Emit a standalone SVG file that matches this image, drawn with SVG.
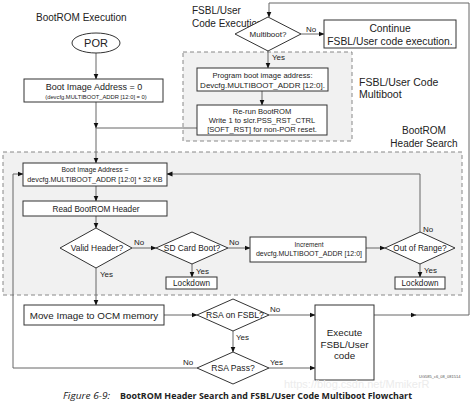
<svg xmlns="http://www.w3.org/2000/svg" width="474" height="404" viewBox="0 0 474 404">
<defs>
<marker id="ah" markerWidth="6" markerHeight="6" refX="5.5" refY="3" orient="auto" markerUnits="userSpaceOnUse">
<path d="M0,0.5 L6,3 L0,5.5 Z" fill="#111"/>
</marker>
<style>
text{font-family:"Liberation Sans",Arial,sans-serif;fill:#222;}
.t{font-size:10px;}
.m{text-anchor:middle;}
.box{fill:#fff;stroke:#333;stroke-width:1;}
.dia{fill:#fff;stroke:#333;stroke-width:1;}
.grp{fill:#f1f1f1;stroke:#888;stroke-width:1;stroke-dasharray:4,3;}
.c{fill:none;stroke:#666;stroke-width:1;}
.ca{fill:none;stroke:#666;stroke-width:1;marker-end:url(#ah);}
.lbl{font-size:8px;}
</style>
</defs>
<rect width="474" height="404" fill="#fff"/>

<g id="groups">
<rect id="grp-multiboot" class="grp" x="183" y="52" width="169" height="89"/>
<rect id="grp-header" class="grp" x="3" y="152" width="459" height="143"/>
</g>

<g id="titles">
<text class="t" x="36" y="21">BootROM Execution</text>
<text class="t" x="192" y="14">FSBL/User</text>
<text class="t" x="192" y="27">Code Execution</text>
<text x="359" y="86" style="font-size:10.5px">FSBL/User Code</text>
<text x="359" y="98" style="font-size:10.5px">Multiboot</text>
<text class="t m" x="424" y="134">BootROM</text>
<text class="t m" x="424" y="147">Header Search</text>
</g>

<g id="connectors">
<path class="ca" d="M96,53 V79"/>
<path class="ca" d="M96,102 V128"/>
<path class="c" d="M197,128 H96"/>
<path class="ca" d="M96,128 V163"/>
<path class="ca" d="M96,186 V201"/>
<path class="ca" d="M96,216 V228"/>
<path class="ca" d="M132,248 H156"/>
<path class="ca" d="M228,248 H250"/>
<path class="ca" d="M366,248 H385"/>
<path class="ca" d="M192,264 V277"/>
<path class="ca" d="M420,264 V277"/>
<path class="ca" d="M420,232 V174 H167"/>
<path class="ca" d="M96,268 V305"/>
<path class="ca" d="M164,315 H197"/>
<path class="ca" d="M269,315 H315"/>
<path class="ca" d="M233,331 V352"/>
<path class="ca" d="M269,368 H315"/>
<path class="ca" d="M197,368 H13 V174 H23"/>
<path class="ca" d="M374,315 H416"/>
<path class="ca" d="M414,315 H469 V3 H269 V17"/>
<path class="ca" d="M268,51 V68"/>
<path class="ca" d="M262,91 V105"/>
<path class="ca" d="M301,34 H324"/>
<text class="lbl" x="306" y="32">No</text>
<text class="lbl" x="272" y="60">Yes</text>
<text class="lbl" x="134" y="245">No</text>
<text class="lbl" x="100" y="277">Yes</text>
<text class="lbl" x="229" y="245">No</text>
<text class="lbl" x="196" y="274">Yes</text>
<text class="lbl" x="423" y="232">No</text>
<text class="lbl" x="424" y="273">Yes</text>
<text class="lbl" x="270" y="312">No</text>
<text class="lbl" x="236" y="340">Yes</text>
<text class="lbl" x="183" y="365">No</text>
<text class="lbl" x="270" y="365">Yes</text>
</g>

<g id="por">
<ellipse cx="96" cy="43" rx="24" ry="10" fill="#fff" stroke="#333"/>
<text class="m" x="96" y="47" style="font-size:11px">POR</text>
</g>

<g id="bootaddr0">
<rect class="box" x="24" y="79" width="139" height="23"/>
<text class="m" x="94" y="90" style="font-size:9px">Boot Image Address = 0</text>
<text class="m" x="96" y="99" style="font-size:5.8px">(devcfg.MULTIBOOT_ADDR [12:0] = 0)</text>
</g>

<g id="multiboot">
<polygon class="dia" points="268,17 301,34 268,51 235,34"/>
<text class="m" x="268" y="37" style="font-size:8px">Multiboot?</text>
</g>

<g id="continue">
<rect class="box" x="324" y="20" width="132" height="28"/>
<text class="m" x="390" y="32" style="font-size:10.3px">Continue</text>
<text class="m" x="390" y="45" style="font-size:10.3px">FSBL/User code execution.</text>
</g>

<g id="program">
<rect class="box" x="197" y="68" width="131" height="23"/>
<text class="m" x="262.5" y="78" style="font-size:7.6px">Program boot image address:</text>
<text class="m" x="262.5" y="87.5" style="font-size:8px">Devcfg.MULTIBOOT_ADDR [12:0].</text>
</g>

<g id="rerun">
<rect class="box" x="197" y="105" width="130" height="30"/>
<text class="m" x="262" y="114" style="font-size:7.6px">Re-run BootROM</text>
<text class="m" x="262" y="123" style="font-size:7.6px">Write 1 to slcr.PSS_RST_CTRL</text>
<text class="m" x="262" y="132" style="font-size:7.6px">[SOFT_RST] for non-POR reset.</text>
</g>

<g id="bootaddr">
<rect class="box" x="23" y="163" width="144" height="23"/>
<text class="m" x="95" y="172" style="font-size:6.8px">Boot Image Address =</text>
<text class="m" x="95" y="181.5" style="font-size:7.2px">devcfg.MULTIBOOT_ADDR [12:0] * 32 KB</text>
</g>

<g id="readhdr">
<rect class="box" x="23" y="201" width="144" height="15"/>
<text class="m" x="96" y="211.5" style="font-size:8.2px">Read BootROM Header</text>
</g>

<g id="validhdr">
<polygon class="dia" points="96,228 132,248 96,268 60,248"/>
<text class="m" x="97" y="251" style="font-size:8.4px">Valid Header?</text>
</g>

<g id="sdcard">
<polygon class="dia" points="192,232 228,248 192,264 156,248"/>
<text class="m" x="192" y="251" style="font-size:8.4px">SD Card Boot?</text>
</g>

<g id="lockdown1">
<rect class="box" x="166" y="277" width="51" height="12"/>
<text class="m" x="191.5" y="286" style="font-size:8.2px">Lockdown</text>
</g>

<g id="increment">
<rect class="box" x="250" y="237" width="116" height="25"/>
<text class="m" x="309" y="247" style="font-size:6.5px">Increment</text>
<text class="m" x="309" y="256" style="font-size:7px">devcfg.MULTIBOOT_ADDR [12:0]</text>
</g>

<g id="outofrange">
<polygon class="dia" points="420,232 455,248 420,264 385,248"/>
<text class="m" x="420" y="251" style="font-size:8.2px">Out of Range?</text>
</g>

<g id="lockdown2">
<rect class="box" x="395" y="277" width="50" height="12"/>
<text class="m" x="420" y="286" style="font-size:8.2px">Lockdown</text>
</g>

<g id="moveimg">
<rect class="box" x="24" y="305" width="140" height="20"/>
<text class="m" x="94" y="319" style="font-size:9.8px">Move Image to OCM memory</text>
</g>

<g id="rsaon">
<polygon class="dia" points="233,299 269,315 233,331 197,315"/>
<text class="m" x="235" y="318" style="font-size:8.6px">RSA on FSBL?</text>
</g>

<g id="rsapass">
<polygon class="dia" points="233,352 269,368 233,384 197,368"/>
<text class="m" x="233" y="371" style="font-size:8.6px">RSA Pass?</text>
</g>

<g id="execute">
<rect class="box" x="315" y="305" width="59" height="75"/>
<text class="m" x="344.5" y="336" style="font-size:9.8px">Execute</text>
<text class="m" x="344.5" y="347.5" style="font-size:9.8px">FSBL/User</text>
<text class="m" x="344.5" y="359" style="font-size:9.8px">code</text>
</g>

<g id="caption">
<text x="419" y="378" style="font-size:4px;fill:#555">UG585_c6_08_081514</text>
<text x="284" y="388" style="font-size:11px;fill:#ececec">https://blog.csdn.net/MmikerR</text>
<text x="63" y="399" style="font-family:'Open Sans','Noto Sans',sans-serif;font-size:9.5px;font-style:italic" textLength="47" lengthAdjust="spacingAndGlyphs">Figure 6-9:</text>
<text x="120" y="399" style="font-family:'Open Sans','Noto Sans',sans-serif;font-size:9.5px;font-weight:bold" textLength="292" lengthAdjust="spacingAndGlyphs">BootROM Header Search and FSBL/User Code Multiboot Flowchart</text>
</g>
</svg>
